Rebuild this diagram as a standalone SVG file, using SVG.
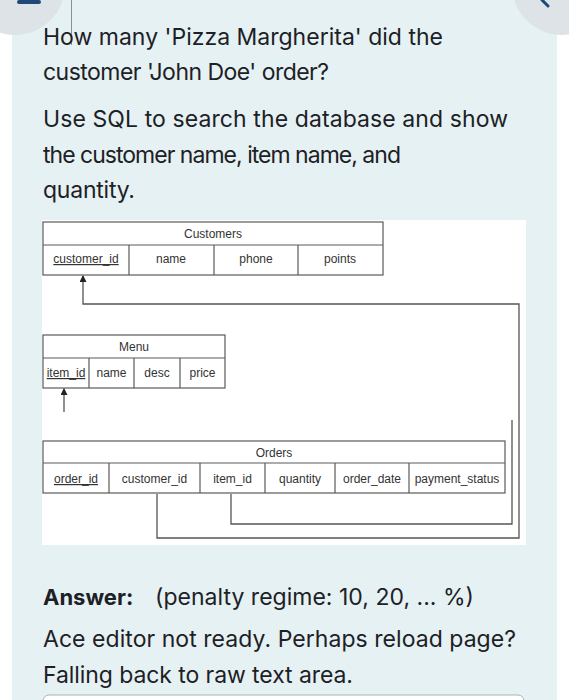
<svg xmlns="http://www.w3.org/2000/svg" width="569" height="700" viewBox="0 0 569 700">
<style>
.q{font-family:Inter,"Liberation Sans",Arial,sans-serif;font-size:23px;fill:#1d2125}
.t{font-family:"Liberation Sans",Arial,sans-serif;font-size:12px;fill:#333;text-anchor:middle}
.u{text-decoration:underline}
.box{fill:#fff;stroke:#5a5a5a;stroke-width:1.2}
.ln{fill:none;stroke:#5a5a5a;stroke-width:1.2}
.c{fill:none;stroke:#555;stroke-width:1.3}
</style>
<defs>
<marker id="ah" markerWidth="8" markerHeight="8" refX="6" refY="3.5" orient="auto" markerUnits="userSpaceOnUse">
<path d="M0,0 L7,3.5 L0,7 Z" fill="#222"/>
</marker>
</defs>
<rect width="569" height="700" fill="#ffffff"/>
<rect x="12" y="0" width="545" height="700" fill="#e6f1f4"/>
<circle cx="15" cy="-15" r="50" fill="#dde3e6"/>
<rect x="17" y="0" width="24" height="4" rx="2" fill="#1f4a78"/>
<circle cx="562" cy="-15" r="50" fill="#dde3e6"/>
<path d="M542,0 L548,6" stroke="#1f4a78" stroke-width="3" stroke-linecap="round"/>
<line x1="71.5" y1="0" x2="71.5" y2="45" stroke="#8a9296" stroke-width="1"/>

<text class="q" x="43" y="45" textLength="400">How many 'Pizza Margherita' did the</text>
<text class="q" x="43" y="80" textLength="286">customer 'John Doe' order?</text>
<text class="q" x="43" y="127" textLength="465">Use SQL to search the database and show</text>
<text class="q" x="43" y="163" textLength="358">the customer name, item name, and</text>
<text class="q" x="43" y="198" textLength="92">quantity.</text>

<rect x="42" y="220" width="484" height="325" fill="#ffffff"/>

<g id="customers">
<rect class="box" x="43" y="222" width="340" height="53"/>
<line class="ln" x1="43" y1="245" x2="383" y2="245"/>
<line class="ln" x1="129" y1="245" x2="129" y2="275"/>
<line class="ln" x1="214" y1="245" x2="214" y2="275"/>
<line class="ln" x1="298" y1="245" x2="298" y2="275"/>
<text class="t" x="213" y="238">Customers</text>
<text class="t u" x="86" y="263">customer_id</text>
<text class="t" x="171" y="263">name</text>
<text class="t" x="256" y="263">phone</text>
<text class="t" x="340" y="263">points</text>
</g>

<g id="menu">
<rect class="box" x="43" y="335" width="182" height="53"/>
<line class="ln" x1="43" y1="358" x2="225" y2="358"/>
<line class="ln" x1="89" y1="358" x2="89" y2="388"/>
<line class="ln" x1="134" y1="358" x2="134" y2="388"/>
<line class="ln" x1="180" y1="358" x2="180" y2="388"/>
<text class="t" x="134" y="351">Menu</text>
<text class="t u" x="66" y="377">item_id</text>
<text class="t" x="111.5" y="377">name</text>
<text class="t" x="157" y="377">desc</text>
<text class="t" x="202.5" y="377">price</text>
</g>

<g id="orders">
<rect class="box" x="43" y="441" width="462" height="52"/>
<line class="ln" x1="43" y1="463" x2="505" y2="463"/>
<line class="ln" x1="109" y1="463" x2="109" y2="493"/>
<line class="ln" x1="200" y1="463" x2="200" y2="493"/>
<line class="ln" x1="265" y1="463" x2="265" y2="493"/>
<line class="ln" x1="335" y1="463" x2="335" y2="493"/>
<line class="ln" x1="409" y1="463" x2="409" y2="493"/>
<text class="t" x="274" y="457">Orders</text>
<text class="t u" x="76" y="483">order_id</text>
<text class="t" x="154.5" y="483">customer_id</text>
<text class="t" x="232.5" y="483">item_id</text>
<text class="t" x="300" y="483">quantity</text>
<text class="t" x="372" y="483">order_date</text>
<text class="t" x="457" y="483">payment_status</text>
</g>

<g id="connectors">
<path class="c" d="M157,494 V538 H519 V304 H83 V276" marker-end="url(#ah)"/>
<path class="c" d="M64,412 V389" marker-end="url(#ah)"/>
<path class="c" d="M231,494 V524 H512 V420"/>
</g>

<text x="43" y="605" style="font-family:Inter,'Liberation Sans',Arial,sans-serif;font-size:22px;font-weight:bold;fill:#1d2125">Answer:</text>
<text class="q" x="155" y="605" textLength="319">(penalty regime: 10, 20, ... %)</text>
<text class="q" x="43" y="647" textLength="473">Ace editor not ready. Perhaps reload page?</text>
<text class="q" x="43" y="683" textLength="310">Falling back to raw text area.</text>
<rect x="43" y="695" width="481" height="20" rx="6" fill="#ffffff" stroke="#aab1b5" stroke-width="1"/>
</svg>
